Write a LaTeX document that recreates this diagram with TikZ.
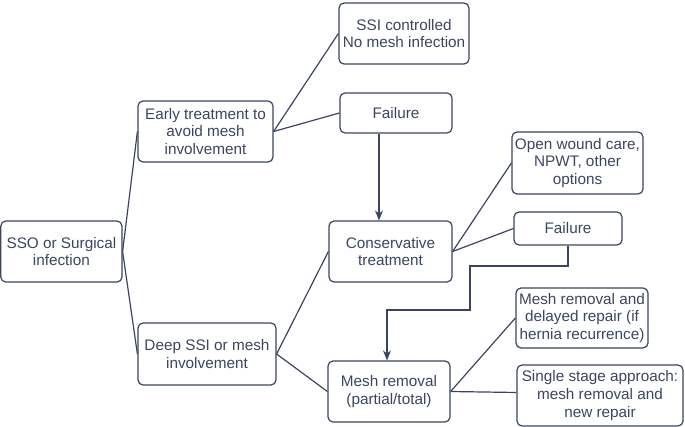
\documentclass[tikz,border=0pt]{standalone}
\usepackage{fontspec}
\setmainfont{Liberation Sans}
\usetikzlibrary{arrows.meta}
\definecolor{ln}{HTML}{3B4561}
\begin{document}
\begin{tikzpicture}[x=1pt,y=-1pt,
  box/.style={draw=ln,line width=1.2pt,rounded corners=5pt,text=ln,align=center,inner sep=0pt,
    font=\fontsize{15.3}{17.6}\selectfont},
  conn/.style={draw=ln,line width=1.2pt},
  arr/.style={conn,-{Stealth[length=10pt,width=8pt]}}]
\useasboundingbox (0,0) rectangle (685,427);
\newcommand{\bx}[6]{\node[box,minimum width={#4-#2},minimum height={#5-#3}] (#1) at ({(#2+#4)/2},{(#3+#5)/2}) {#6};}
\bx{sso}{0.8}{221}{122}{282}{SSO or Surgical\\infection}
\bx{early}{138}{101}{273}{162}{Early treatment to\\avoid mesh\\involvement}
\bx{ssi}{339}{3}{469}{64}{SSI controlled\\No mesh infection}
\bx{fail1}{340}{93}{452}{133}{Failure}
\bx{cons}{329}{221}{452}{282}{Conservative\\treatment}
\bx{open}{512}{132}{643}{194}{Open wound care,\\NPWT, other\\options}
\bx{fail2}{514}{212}{622}{245}{Failure}
\bx{deep}{138}{323}{276}{385}{Deep SSI or mesh\\involvement}
\bx{mesh}{328}{361}{450}{422}{Mesh removal\\(partial/total)}
\bx{delay}{516}{288}{648}{348}{Mesh removal and\\delayed repair (if\\hernia recurrence)}
\bx{single}{517}{365}{683}{426}{Single stage approach:\\mesh removal and\\new repair}
\coordinate (k1) at (470,266);
\coordinate (k2) at (387,310);
\draw[conn] (sso.east) -- (early.west);
\draw[conn] (sso.east) -- (deep.west);
\draw[conn] (early.east) -- (ssi.west);
\draw[conn] (early.east) -- (fail1.west);
\draw[arr] ([xshift=-17pt]fail1.south) -- ([xshift=-17pt]fail1.south |- cons.north);
\draw[conn] (cons.east) -- (open.west);
\draw[conn] (cons.east) -- (fail2.west);
\draw[arr] (fail2.south) |- (k1) |- (k2) -- (k2 |- mesh.north);
\draw[conn] (deep.east) -- (cons.west);
\draw[conn] (deep.east) -- (mesh.west);
\draw[conn] (mesh.east) -- (delay.west);
\draw[conn] (mesh.east) -- ([yshift=3pt]single.west);
\end{tikzpicture}
\end{document}
